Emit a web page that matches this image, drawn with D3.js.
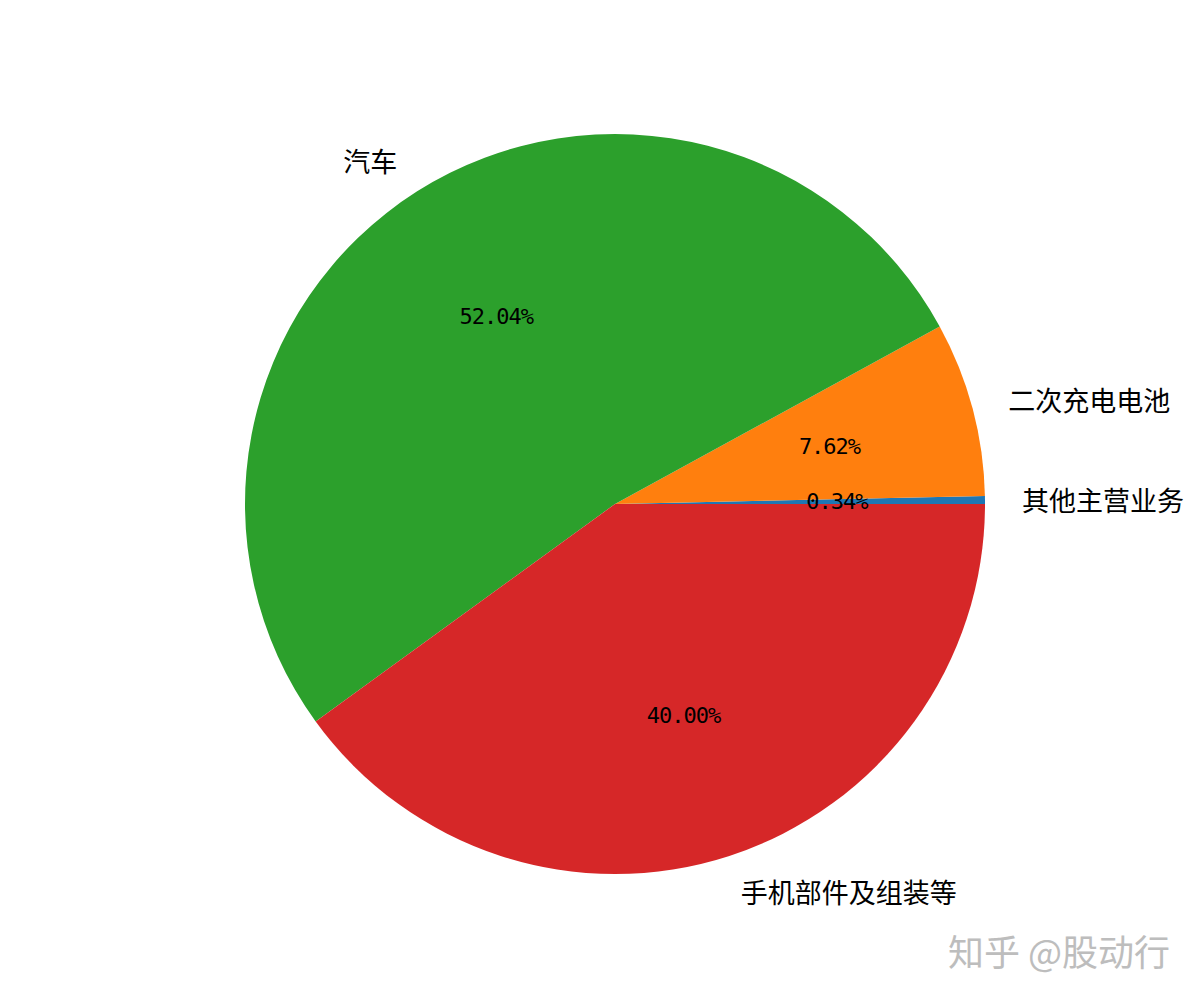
<!DOCTYPE html>
<html>
<head>
<meta charset="utf-8">
<script src="https://cdn.jsdelivr.net/npm/d3@7"></script>
<style>
  body { margin: 0; background: #fff; }
  text { font-family: "Noto Sans CJK SC", "DejaVu Sans", sans-serif; }
</style>
</head>
<body>
<div id="canvas"></div>
<script>
// data, in the order matplotlib draws them (counterclockwise from 3 o'clock)
const categories = ['其他主营业务', '二次充电电池', '汽车', '手机部件及组装等'];
const values = [0.34, 7.62, 52.04, 40.00];
const colors = ['#1f77b4', '#ff7f0e', '#2ca02c', '#d62728'];

const width = 1200;
const height = 1000;
const cx = 615, cy = 504, radius = 370;

const svg = d3.select('#canvas')
    .append('svg')
        .attr('width', width)
        .attr('height', height)
        .attr('viewBox', [0, 0, width, height]);

const data = categories.map((c, i) => ({ name: c, value: values[i], color: colors[i] }));

// matplotlib: start at 0 rad (east), go counterclockwise.
// d3 angles: 0 = north, clockwise. So d3 angle = PI/2 - math angle.
const pie = d3.pie()
    .value(d => d.value)
    .sort(null)
    .startAngle(Math.PI / 2)
    .endAngle(Math.PI / 2 - 2 * Math.PI);

const arcs = pie(data);
const arc = d3.arc().innerRadius(0).outerRadius(radius);

const g = svg.append('g').attr('transform', `translate(${cx}, ${cy})`);

g.selectAll('path')
    .data(arcs)
    .enter()
    .append('path')
    .attr('d', arc)
    .attr('fill', d => d.data.color);

function pos(d, r) {
    const a = (d.startAngle + d.endAngle) / 2;
    return [Math.sin(a) * r, -Math.cos(a) * r];
}

// category labels at 1.1 r
g.selectAll('text.label')
    .data(arcs)
    .enter()
    .append('text')
    .attr('class', 'label')
    .attr('x', d => pos(d, radius * 1.1)[0])
    .attr('y', d => pos(d, radius * 1.1)[1])
    .attr('text-anchor', d => pos(d, 1)[0] > 0 ? 'start' : 'end')
    .attr('dominant-baseline', 'central')
    .attr('font-size', '27px')
    .attr('fill', '#000')
    .text(d => d.data.name);

// percentage labels at 0.6 r
g.selectAll('text.pct')
    .data(arcs)
    .enter()
    .append('text')
    .attr('class', 'pct')
    .attr('x', d => pos(d, radius * 0.6)[0])
    .attr('y', d => pos(d, radius * 0.6)[1])
    .attr('text-anchor', 'middle')
    .attr('dominant-baseline', 'central')
    .style('font-family', '"DejaVu Sans Mono", monospace')
    .style('letter-spacing', '-1px')
    .attr('font-size', '22px')
    .attr('fill', '#000')
    .text(d => d.data.value.toFixed(2) + '%');

// watermark
svg.append('text')
    .attr('x', 1170)
    .attr('y', 950)
    .attr('text-anchor', 'end')
    .attr('dominant-baseline', 'central')
    .attr('font-size', '36px')
    .attr('fill', '#bdbdbd')
    .style('paint-order', 'stroke')
    .attr('stroke', '#fff')
    .attr('stroke-width', 2)
    .text('知乎 @股动行');
</script>
</body>
</html>
